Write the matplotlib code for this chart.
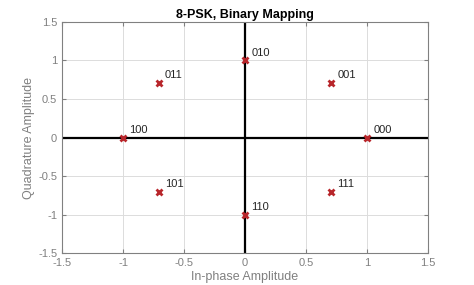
import matplotlib.pyplot as plt

# constellation points (8-PSK, binary mapping)
in_phase = [1.0, 0.7071, 0.0, -0.7071, -1.0, -0.7071, 0.0, 0.7071]
quadrature = [0.0, 0.7071, 1.0, 0.7071, 0.0, -0.7071, -1.0, -0.7071]
symbols = ["000", "001", "010", "011", "100", "101", "110", "111"]
ticks = [-1.5, -1, -0.5, 0, 0.5, 1, 1.5]
tick_labels = ["-1.5", "-1", "-0.5", "0", "0.5", "1", "1.5"]

plt.rcParams['font.family'] = ['Arial', 'Liberation Sans', 'DejaVu Sans']

fig = plt.figure(figsize=(4.74, 2.85), dpi=100)
ax = fig.add_axes([0.131, 0.112, 0.772, 0.811])

ax.axhline(0, color='black', lw=1.6, zorder=2)
ax.axvline(0, color='black', lw=1.6, zorder=2)
ax.plot(in_phase, quadrature, 'x', color='#b8262b', ms=5, mew=2, zorder=3)
for x, y, s in zip(in_phase, quadrature, symbols):
    ax.annotate(s, (x, y), xytext=(4.5, 3.5), textcoords='offset points',
                fontsize=8, color='#262626')

ax.set_xlim(-1.5, 1.5)
ax.set_ylim(-1.5, 1.5)
ax.set_xticks(ticks)
ax.set_xticklabels(tick_labels)
ax.set_yticks(ticks)
ax.set_yticklabels(tick_labels)
ax.grid(True, color='#dcdcdc', lw=0.7)
ax.set_axisbelow(True)
ax.tick_params(labelsize=8, colors='#808080', length=3, direction='in',
               top=True, right=True)
for sp in ax.spines.values():
    sp.set_color('#808080')
    sp.set_linewidth(0.8)

ax.set_xlabel("In-phase Amplitude", fontsize=9, color='#808080', labelpad=2)
ax.set_ylabel("Quadrature Amplitude", fontsize=9, color='#808080', labelpad=2)
ax.set_title("8-PSK, Binary Mapping", fontsize=9, fontweight='bold', pad=3)

fig.savefig("out.png", dpi=100)
